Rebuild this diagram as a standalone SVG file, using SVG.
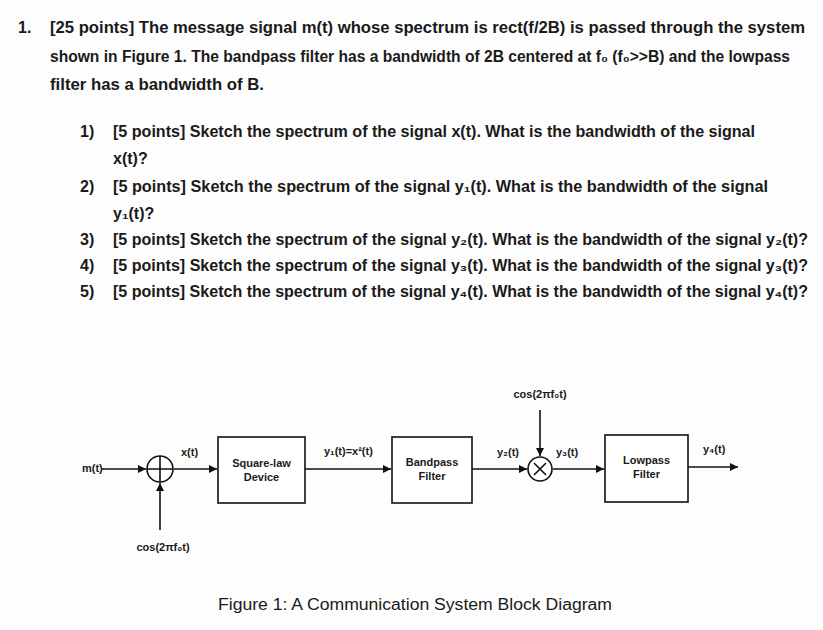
<svg xmlns="http://www.w3.org/2000/svg" width="823" height="630" viewBox="0 0 823 630">
<style>
.t{font-family:"Liberation Sans",Arial,sans-serif;font-weight:bold;font-size:16px;fill:#1a1a1a}
.c{font-family:"Liberation Sans",Arial,sans-serif;font-size:16px;fill:#1a1a1a}
.l{font-family:"Liberation Sans",Arial,sans-serif;font-weight:bold;font-size:11px;fill:#1a1a1a}
.box{fill:#fff;stroke:#111;stroke-width:1.6}
.w{stroke:#111;stroke-width:1.6;fill:none}
</style>
<defs><marker id="a" viewBox="0 0 10 10" refX="10" refY="5" markerWidth="8" markerHeight="8" markerUnits="userSpaceOnUse" orient="auto"><path d="M0,0L10,5L0,10z" fill="#111"/></marker></defs>
<rect width="823" height="630" fill="#fdfdfd"/>
<text class="t" x="18" y="33">1.</text>
<text class="t" x="50" y="33" textLength="755" lengthAdjust="spacingAndGlyphs">[25 points] The message signal m(t) whose spectrum is rect(f/2B) is passed through the system</text>
<text class="t" x="50" y="62" textLength="740" lengthAdjust="spacingAndGlyphs">shown in Figure 1. The bandpass filter has a bandwidth of 2B centered at f₀ (f₀&gt;&gt;B) and the lowpass</text>
<text class="t" x="50" y="90" textLength="214" lengthAdjust="spacingAndGlyphs">filter has a bandwidth of B.</text>
<text class="t" x="80" y="137">1)</text>
<text class="t" x="113" y="137" textLength="642" lengthAdjust="spacingAndGlyphs">[5 points] Sketch the spectrum of the signal x(t). What is the bandwidth of the signal</text>
<text class="t" x="113" y="164">x(t)?</text>
<text class="t" x="80" y="192">2)</text>
<text class="t" x="113" y="192" textLength="655" lengthAdjust="spacingAndGlyphs">[5 points] Sketch the spectrum of the signal y₁(t). What is the bandwidth of the signal</text>
<text class="t" x="113" y="219">y₁(t)?</text>
<text class="t" x="80" y="245">3)</text>
<text class="t" x="113" y="245" textLength="695" lengthAdjust="spacingAndGlyphs">[5 points] Sketch the spectrum of the signal y₂(t). What is the bandwidth of the signal y₂(t)?</text>
<text class="t" x="80" y="271">4)</text>
<text class="t" x="113" y="271" textLength="695" lengthAdjust="spacingAndGlyphs">[5 points] Sketch the spectrum of the signal y₃(t). What is the bandwidth of the signal y₃(t)?</text>
<text class="t" x="80" y="297">5)</text>
<text class="t" x="113" y="297" textLength="695" lengthAdjust="spacingAndGlyphs">[5 points] Sketch the spectrum of the signal y₄(t). What is the bandwidth of the signal y₄(t)?</text>
<g id="connectors">
<line class="w" x1="102" y1="469" x2="146" y2="469" marker-end="url(#a)"/>
<line class="w" x1="160" y1="530" x2="160" y2="483" marker-end="url(#a)"/>
<line class="w" x1="174" y1="469" x2="217" y2="469" marker-end="url(#a)"/>
<line class="w" x1="305" y1="469" x2="391" y2="469" marker-end="url(#a)"/>
<line class="w" x1="472" y1="469" x2="527" y2="469" marker-end="url(#a)"/>
<line class="w" x1="540" y1="410" x2="540" y2="456" marker-end="url(#a)"/>
<line class="w" x1="553" y1="469" x2="604" y2="469" marker-end="url(#a)"/>
<line class="w" x1="688" y1="467" x2="738" y2="467" marker-end="url(#a)"/>
</g>
<g id="labels">
<text class="l" x="82" y="472">m(t)</text>
<text class="l" x="181" y="456">x(t)</text>
<text class="l" x="324" y="455">y₁(t)=x²(t)</text>
<text class="l" x="497" y="456">y₂(t)</text>
<text class="l" x="556" y="456">y₃(t)</text>
<text class="l" x="703" y="453">y₄(t)</text>
<text class="l" x="540" y="398" text-anchor="middle">cos(2πf₀t)</text>
<text class="l" x="163" y="551" text-anchor="middle">cos(2πf₀t)</text>
</g>
<g id="adder"><circle class="box" cx="160" cy="469" r="13"/><path class="w" d="M147,469H173M160,456V482" stroke-width="2"/></g>
<g id="square"><rect class="box" x="218" y="437" width="87" height="66"/><text class="l" x="261.5" y="467" text-anchor="middle">Square-law</text><text class="l" x="261.5" y="481" text-anchor="middle">Device</text></g>
<g id="bandpass"><rect class="box" x="392" y="437" width="80" height="66"/><text class="l" x="432" y="466" text-anchor="middle">Bandpass</text><text class="l" x="432" y="480" text-anchor="middle">Filter</text></g>
<g id="mixer"><circle class="box" cx="540" cy="469" r="12"/><path class="w" d="M534,463L546,475M546,463L534,475" stroke-width="2"/></g>
<g id="lowpass"><rect class="box" x="605" y="435" width="83" height="67"/><text class="l" x="646.5" y="464" text-anchor="middle">Lowpass</text><text class="l" x="646.5" y="478" text-anchor="middle">Filter</text></g>
<text class="c" x="218" y="610" textLength="394" lengthAdjust="spacingAndGlyphs">Figure 1: A Communication System Block Diagram</text>
</svg>
